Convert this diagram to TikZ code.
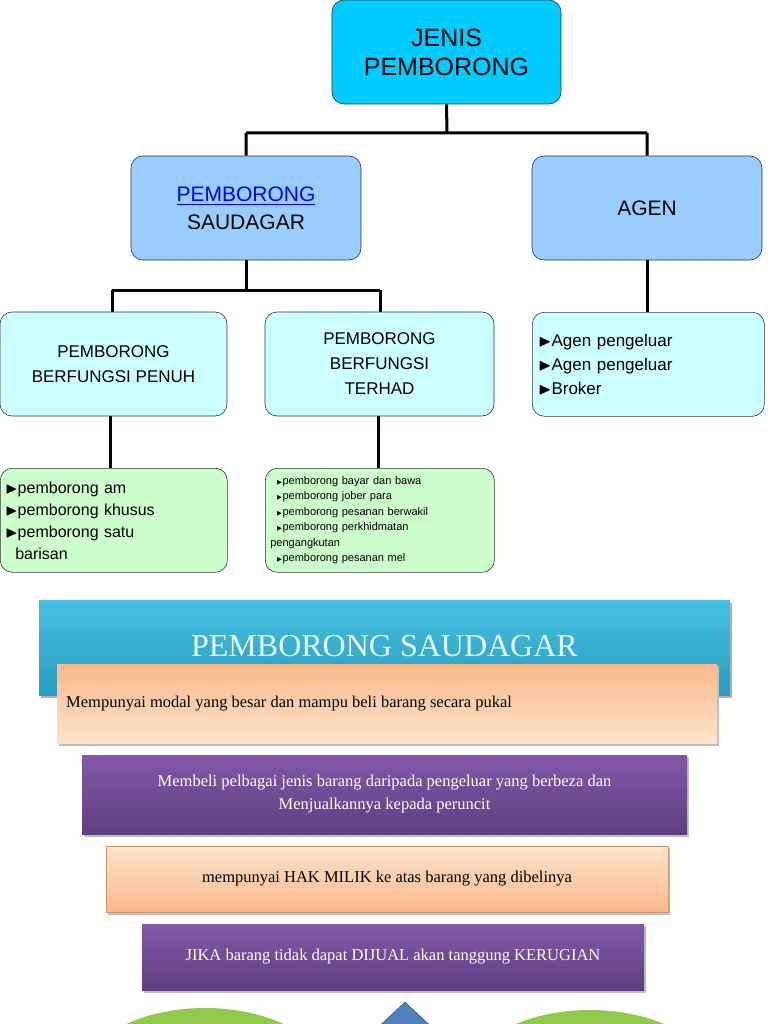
\documentclass[tikz,border=0pt]{standalone}
\usepackage{fontspec}
\usepackage{amssymb}
\setmainfont{Liberation Sans}
\newfontfamily\serif{Liberation Serif}
\begin{document}
\begin{tikzpicture}[x=1pt,y=-1pt,
  box/.style={draw=black!80,line width=0.6pt,rounded corners=12pt,align=center,inner sep=0pt},
  conn/.style={line width=3pt,black},
  rect/.style={draw=none,inner sep=0pt,align=center,font=\serif}]
\useasboundingbox (0,0) rectangle (768,1024);
\clip (0,0) rectangle (768,1024);
\definecolor{cyanb}{HTML}{00CCFF}
\definecolor{lblue}{HTML}{99CCFF}
\definecolor{lcyan}{HTML}{CCFFFF}
\definecolor{lgreen}{HTML}{CCFFCC}
\definecolor{teal1}{HTML}{45C0E0}
\definecolor{teal2}{HTML}{2A9CC0}
\definecolor{or1}{HTML}{FDE3CC}
\definecolor{or2}{HTML}{FBB98A}
\definecolor{pu1}{HTML}{8259A8}
\definecolor{pu2}{HTML}{5E3E82}
\definecolor{gr}{HTML}{92C94A}
\definecolor{tri}{HTML}{4F81BD}
\coordinate (j1) at (447,133); \coordinate (jl) at (246,133); \coordinate (jr) at (647,133);
\coordinate (s1) at (246,290); \coordinate (sl) at (112,290); \coordinate (sr) at (380,290);
\node[box,fill=cyanb,minimum width=229,minimum height=104,font=\fontsize{25}{29}\selectfont] (jenis) at (446.5,52) {JENIS\\PEMBORONG};
\node[box,fill=lblue,minimum width=230,minimum height=104,font=\fontsize{21}{28}\selectfont] (saud) at (246,208) {\textcolor{blue}{\underline{PEMBORONG}}\\SAUDAGAR};
\node[box,fill=lblue,minimum width=230,minimum height=104,font=\fontsize{21}{25}\selectfont] (agen) at (647,208) {AGEN};
\node[box,fill=lcyan,minimum width=227,minimum height=104,font=\fontsize{17}{25}\selectfont] (penuh) at (113.5,364) {PEMBORONG\\BERFUNGSI PENUH};
\node[box,fill=lcyan,minimum width=229,minimum height=104,font=\fontsize{17}{25}\selectfont] (terhad) at (379.5,364) {PEMBORONG\\BERFUNGSI\\TERHAD};
\node[box,fill=lcyan,minimum width=230,minimum height=104,font=\fontsize{17}{24}\selectfont,align=left,anchor=north west,text width=220,inner sep=6pt] (alist) at (532,312) {$\blacktriangleright$Agen pengeluar\\$\blacktriangleright$Agen pengeluar\\$\blacktriangleright$Broker};
\node[box,fill=lgreen,minimum width=227,minimum height=104,font=\fontsize{16}{22}\selectfont,align=left,anchor=north west,text width=217,inner sep=5pt] (g1) at (0,468) {$\blacktriangleright$pemborong am\\$\blacktriangleright$pemborong khusus\\$\blacktriangleright$pemborong satu\\\hspace{10pt}barisan};
\node[box,fill=lgreen,minimum width=229,minimum height=104,font=\fontsize{11}{15.5}\selectfont,align=left,anchor=north west,text width=219,inner sep=5pt] (g2) at (265,468) {\hspace{6pt}{\scriptsize$\blacktriangleright$}pemborong bayar dan bawa\\\hspace{6pt}{\scriptsize$\blacktriangleright$}pemborong jober para\\\hspace{6pt}{\scriptsize$\blacktriangleright$}pemborong pesanan berwakil\\\hspace{6pt}{\scriptsize$\blacktriangleright$}pemborong perkhidmatan\\pengangkutan\\\hspace{6pt}{\scriptsize$\blacktriangleright$}pemborong pesanan mel};
\draw[conn] (jenis.south) -- (j1) (jl) -- (jr) (jl) -- (saud.north) (jr) -- (agen.north);
\draw[conn] (saud.south) -- (s1) (sl) -- (sr) (sl) -- (penuh.north -| sl) (sr) -- (terhad.north -| sr);
\draw[conn] (agen.south) -- (alist.north -| agen.south);
\coordinate (p1) at (110,416); \coordinate (t1) at (378,416);
\draw[conn] (p1) -- (p1 |- g1.north);
\draw[conn] (t1) -- (t1 |- g2.north);
\fill[black!30] (41,603) rectangle (732,698);
\node[rect,minimum width=691,minimum height=95,top color=teal1,bottom color=teal2,text=white!90!cyan,font=\serif\fontsize{32}{36}\selectfont] (title) at (384.5,647.5) {\raisebox{4pt}{PEMBORONG SAUDAGAR}};
\fill[black!25] (59,666) rectangle (719,746);
\node[rect,minimum width=660,minimum height=79,top color=or2,bottom color=or1,anchor=north west] (o1) at (57,664) {};
\node[font=\serif\fontsize{16.5}{20}\selectfont,anchor=west,inner sep=0pt] (o1t) at (66,704) {Mempunyai modal yang besar dan mampu beli barang secara pukal};
\fill[black!25] (84,757) rectangle (689,837);
\node[rect,minimum width=605,minimum height=79,top color=pu1,bottom color=pu2,text=white,font=\serif\fontsize{16.5}{23}\selectfont] (p1b) at (384.5,794.5) {Membeli pelbagai jenis barang daripada pengeluar yang berbeza dan\\Menjualkannya kepada peruncit};
\fill[black!25] (108,848) rectangle (670,915);
\node[rect,minimum width=562,minimum height=66,top color=or1,bottom color=or2,font=\serif\fontsize{16.5}{20}\selectfont,draw=or2!80!black,line width=0.4pt] (o2) at (387,879) {mempunyai HAK MILIK ke atas barang yang dibelinya};
\fill[black!25] (144,926) rectangle (646,993);
\node[rect,minimum width=502,minimum height=66,top color=pu1,bottom color=pu2,text=white,font=\serif\fontsize{16.5}{20}\selectfont] (p2) at (393,957) {JIKA barang tidak dapat DIJUAL akan tanggung KERUGIAN};
\fill[gr] (205,1080) ellipse (125 and 72);
\fill[gr] (590,1082) ellipse (125 and 72);
\fill[tri,draw=tri!60!black] (405,1002) -- (375,1030) -- (435,1030) -- cycle;
\end{tikzpicture}
\end{document}
